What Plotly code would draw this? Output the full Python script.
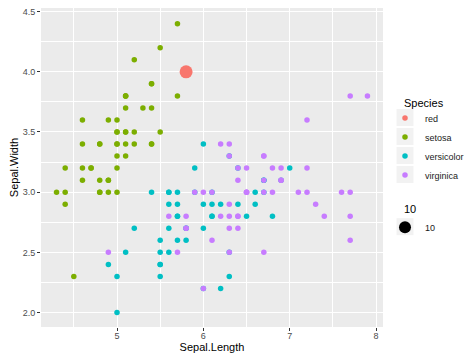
import plotly.graph_objects as go

species_names = ["setosa", "versicolor", "virginica"]
species_colors = {"red": "#F8766D", "setosa": "#7CAE00", "versicolor": "#00BFC4", "virginica": "#C77CFF"}

setosa_sl = [5.1,4.9,4.7,4.6,5.0,5.4,4.6,5.0,4.4,4.9,5.4,4.8,4.8,4.3,5.8,5.7,5.4,5.1,5.7,5.1,5.4,5.1,4.6,5.1,4.8,5.0,5.0,5.2,5.2,4.7,4.8,5.4,5.2,5.5,4.9,5.0,5.5,4.9,4.4,5.1,5.0,4.5,4.4,5.0,5.1,4.8,5.1,4.6,5.3,5.0]
setosa_sw = [3.5,3.0,3.2,3.1,3.6,3.9,3.4,3.4,2.9,3.1,3.7,3.4,3.0,3.0,4.0,4.4,3.9,3.5,3.8,3.8,3.4,3.7,3.6,3.3,3.4,3.0,3.4,3.5,3.4,3.2,3.1,3.4,4.1,4.2,3.1,3.2,3.5,3.6,3.0,3.4,3.5,2.3,3.2,3.5,3.8,3.0,3.8,3.2,3.7,3.3]
versicolor_sl = [7.0,6.4,6.9,5.5,6.5,5.7,6.3,4.9,6.6,5.2,5.0,5.9,6.0,6.1,5.6,6.7,5.6,5.8,6.2,5.6,5.9,6.1,6.3,6.1,6.4,6.6,6.8,6.7,6.0,5.7,5.5,5.5,5.8,6.0,5.4,6.0,6.7,6.3,5.6,5.5,5.5,6.1,5.8,5.0,5.6,5.7,5.7,6.2,5.1,5.7]
versicolor_sw = [3.2,3.2,3.1,2.3,2.8,2.8,3.3,2.4,2.9,2.7,2.0,3.0,2.2,2.9,2.9,3.1,3.0,2.7,2.2,2.5,3.2,2.8,2.5,2.8,2.9,3.0,2.8,3.0,2.9,2.6,2.4,2.4,2.7,2.7,3.0,3.4,3.1,2.3,3.0,2.5,2.6,3.0,2.6,2.3,2.7,3.0,2.9,2.9,2.5,2.8]
virginica_sl = [6.3,5.8,7.1,6.3,6.5,7.6,4.9,7.3,6.7,7.2,6.5,6.4,6.8,5.7,5.8,6.4,6.5,7.7,7.7,6.0,6.9,5.6,7.7,6.3,6.7,7.2,6.2,6.1,6.4,7.2,7.4,7.9,6.4,6.3,6.1,7.7,6.3,6.4,6.0,6.9,6.7,6.9,5.8,6.8,6.7,6.7,6.3,6.5,6.2,5.9]
virginica_sw = [3.3,2.7,3.0,2.9,3.0,3.0,2.5,2.9,2.5,3.6,3.2,2.7,3.0,2.5,2.8,3.2,3.0,3.8,2.6,2.2,3.2,2.8,2.8,2.7,3.3,3.2,2.8,3.0,2.8,3.0,2.8,3.8,2.8,2.8,2.6,3.0,3.4,3.1,3.0,3.1,3.1,3.1,2.7,3.2,3.3,3.0,2.5,3.0,3.4,3.0]

red_x = [5.8]
red_y = [4.0]
size_label = "10"

x_ticks = [5, 6, 7, 8]
y_ticks = [2.0, 2.5, 3.0, 3.5, 4.0, 4.5]

data = {
    "setosa": (setosa_sl, setosa_sw),
    "versicolor": (versicolor_sl, versicolor_sw),
    "virginica": (virginica_sl, virginica_sw),
}

FONT = "Liberation Sans, Arial, sans-serif"

# figure geometry (page body adds an 8px offset)
W, H = 466, 354
ML, MR, MT, MB = 33, 91, 0, 35
PW, PH = W - ML - MR, H - MT - MB


def px(fx):
    return (fx - ML) / PW


def py(fy):
    return 1 - (fy - MT) / PH


fig = go.Figure()

fig.add_trace(go.Scatter(x=[None], y=[None], mode="markers", name="red",
                         marker=dict(color=species_colors["red"], size=5.5),
                         legend="legend"))
for sp in species_names:
    xs, ys = data[sp]
    fig.add_trace(go.Scatter(x=xs, y=ys, mode="markers", name=sp,
                             marker=dict(color=species_colors[sp], size=5.5),
                             legend="legend"))
fig.add_trace(go.Scatter(x=red_x, y=red_y, mode="markers", name="red",
                         marker=dict(color=species_colors["red"], size=13),
                         showlegend=False))
fig.add_trace(go.Scatter(x=[None], y=[None], mode="markers", name=size_label,
                         marker=dict(color="black", size=12),
                         legend="legend2"))

axis_common = dict(
    showgrid=True, gridcolor="white", gridwidth=1.1,
    zeroline=False, showline=False, automargin=False,
    ticks="outside", ticklen=3, tickcolor="#333333", tickwidth=1,
    tickfont=dict(family=FONT, size=9, color="#4D4D4D"),
    ticklabeloverflow="allow",
)

LEG_X = 377          # legend left edge (figure px)
ITEM0 = 109.5        # first item centre (figure px)
STEP = 19
SIZE_ITEM = 218.7

shapes = []
key_cx = LEG_X + 20
for k in range(4):
    cy = ITEM0 + STEP * k
    shapes.append(dict(type="rect", xref="paper", yref="paper", layer="below",
                       x0=px(key_cx - 8.5), x1=px(key_cx + 8.5),
                       y0=py(cy + 8.5), y1=py(cy - 8.5),
                       fillcolor="#F2F2F2", line=dict(width=0)))
shapes.append(dict(type="rect", xref="paper", yref="paper", layer="below",
                   x0=px(key_cx - 8.5), x1=px(key_cx + 8.5),
                   y0=py(SIZE_ITEM + 8.5), y1=py(SIZE_ITEM - 8.5),
                   fillcolor="#F2F2F2", line=dict(width=0)))

fig.update_layout(
    width=W, height=H,
    margin=dict(l=ML, r=MR, t=MT, b=MB, autoexpand=False),
    paper_bgcolor="white",
    plot_bgcolor="#EBEBEB",
    font=dict(family=FONT, color="black"),
    xaxis=dict(range=[4.12, 8.08], tickvals=x_ticks, ticktext=[str(v) for v in x_ticks],
               ticklabelstandoff=-3,
               title=dict(text="Sepal.Length", font=dict(size=11), standoff=3),
               minor=dict(tickvals=[4.5, 5.5, 6.5, 7.5], showgrid=True, gridcolor="white", gridwidth=0.5, ticks=""),
               **axis_common),
    yaxis=dict(range=[1.88, 4.53], tickvals=y_ticks, ticktext=[f"{v:.1f}" for v in y_ticks],
               title=dict(text="Sepal.Width", font=dict(size=11), standoff=4),
               minor=dict(tickvals=[2.25, 2.75, 3.25, 3.75, 4.25], showgrid=True, gridcolor="white", gridwidth=0.5, ticks=""),
               **axis_common),
    legend=dict(xref="paper", yref="paper", x=px(LEG_X), y=py(ITEM0 - 14),
                xanchor="left", yanchor="top",
                font=dict(size=9, color="#1A1A1A"), bgcolor="rgba(0,0,0,0)", itemwidth=30,
                tracegroupgap=0),
    legend2=dict(xref="paper", yref="paper", x=px(LEG_X), y=py(SIZE_ITEM - 14),
                 xanchor="left", yanchor="top",
                 font=dict(size=9, color="#1A1A1A"), bgcolor="rgba(0,0,0,0)", itemwidth=30),
    shapes=shapes,
    annotations=[
        dict(text="Species", xref="paper", yref="paper", x=px(393.7), y=py(94.7),
             xanchor="left", yanchor="middle", showarrow=False, font=dict(size=11)),
        dict(text=size_label, xref="paper", yref="paper", x=px(393.7), y=py(201),
             xanchor="left", yanchor="middle", showarrow=False, font=dict(size=11)),
    ],
)

fig.write_html("out.html")
